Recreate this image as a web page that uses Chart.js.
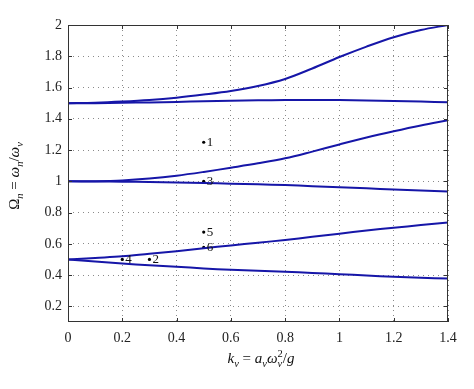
<!DOCTYPE html>
<html><head><meta charset="utf-8">
<script src="https://cdn.jsdelivr.net/npm/chart.js@4"></script>
<style>html,body{margin:0;padding:0;background:#fff}#c{display:block}</style>
</head><body>
<canvas id="c" width="474" height="389"></canvas>
<script>
const kv = [0,0.1,0.2,0.3,0.4,0.5,0.6,0.7,0.8,0.9,1.0,1.1,1.2,1.3,1.4];
const curveA = [1.5,1.503,1.51,1.52,1.535,1.555,1.578,1.61,1.655,1.722,1.795,1.862,1.922,1.968,2.0];
const curveB = [1.5,1.5,1.502,1.505,1.508,1.512,1.516,1.518,1.52,1.52,1.52,1.517,1.514,1.51,1.506];
const curveC = [1.0,1.001,1.006,1.018,1.036,1.06,1.087,1.115,1.147,1.19,1.236,1.28,1.32,1.357,1.39];
const curveD = [1.0,0.999,0.998,0.995,0.992,0.989,0.985,0.981,0.976,0.969,0.962,0.955,0.948,0.941,0.935];
const curveE = [0.5,0.51,0.52,0.537,0.553,0.572,0.59,0.607,0.625,0.645,0.665,0.685,0.703,0.72,0.737];
const curveF = [0.5,0.487,0.474,0.463,0.453,0.443,0.434,0.428,0.421,0.414,0.406,0.397,0.389,0.383,0.378];
const markK = [0.5,0.3,0.5,0.2,0.5,0.5];
const markO = [1.25,0.5,1.0,0.5,0.675,0.577];
const markLabels = ['1','2','3','4','5','6'];
const xTicks = [0,0.2,0.4,0.6,0.8,1.0,1.2,1.4];
const yTicks = [0.2,0.4,0.6,0.8,1.0,1.2,1.4,1.6,1.8,2.0];

const LINE = 'rgb(22,22,168)';
const SERIF = '"Liberation Serif","DejaVu Serif",serif';
const curves = [curveA,curveB,curveC,curveD,curveE,curveF];
const datasets = curves.map(c => ({
  type:'line', data: kv.map((k,i)=>({x:k,y:c[i]})),
  borderColor: LINE, borderWidth: 2, pointRadius: 0, fill:false,
  tension:0.35
}));
datasets.push({type:'scatter', data: markK.map((k,i)=>({x:k,y:markO[i]})),
  pointRadius:1.6, pointBackgroundColor:'#000', pointBorderWidth:0});

function fmt(v){ return (Math.round(v*10)/10).toString(); }

function drawRuns(ctx, runs, size){
  const parts = runs.map(r => {
    const s = r[2]==='n' ? size : size*0.7;
    ctx.font = (r[1]?'italic ':'') + s + 'px ' + SERIF;
    return {t:r[0], font:ctx.font, w:ctx.measureText(r[0]).width, pos:r[2], s};
  });
  let total=0; const xs=[];
  for(let i=0;i<parts.length;i++){
    const p=parts[i];
    if(p.pos==='sub' && i>0 && parts[i-1].pos==='sup'){ xs.push(xs[i-1]); total = Math.max(total, xs[i-1]+p.w); continue; }
    xs.push(total); total += p.w;
  }
  return {parts, xs, total};
}
function renderRuns(ctx, runs, size, cx, cy){
  const m = drawRuns(ctx, runs, size);
  const x0 = cx - m.total/2;
  ctx.textBaseline='alphabetic'; ctx.textAlign='left';
  m.parts.forEach((p,i)=>{
    ctx.font=p.font;
    let dy = 0;
    if(p.pos==='sub') dy = size*0.28;
    if(p.pos==='sup') dy = -size*0.38;
    ctx.fillText(p.t, x0+m.xs[i], cy+dy);
  });
}

const decor = {
  id:'decor',
  afterDatasetsDraw(chart){
    const ctx=chart.ctx, a=chart.chartArea, xs=chart.scales.x, ys=chart.scales.y;
    ctx.save();
    ctx.strokeStyle='#333'; ctx.lineWidth=1;
    ctx.strokeRect(a.left+0.5,a.top+0.5,a.right-a.left-1,a.bottom-a.top-1);
    ctx.beginPath();
    xTicks.forEach(t=>{const x=Math.round(xs.getPixelForValue(t))+0.5;
      ctx.moveTo(x,a.bottom);ctx.lineTo(x,a.bottom-4);ctx.moveTo(x,a.top);ctx.lineTo(x,a.top+4);});
    yTicks.forEach(t=>{const y=Math.round(ys.getPixelForValue(t))+0.5;
      ctx.moveTo(a.left,y);ctx.lineTo(a.left+4,y);ctx.moveTo(a.right,y);ctx.lineTo(a.right-4,y);});
    ctx.stroke();
    ctx.fillStyle='#111'; ctx.font='13px '+SERIF; ctx.textBaseline='middle'; ctx.textAlign='left';
    markK.forEach((k,i)=>{ ctx.fillText(markLabels[i], xs.getPixelForValue(k)+3, ys.getPixelForValue(markO[i])); });
    ctx.fillStyle='#111';
    renderRuns(ctx, [['k',1,'n'],['v',1,'sub'],[' = ',0,'n'],['a',1,'n'],['v',1,'sub'],['ω',1,'n'],['2',0,'sup'],['v',1,'sub'],['/',0,'n'],['g',1,'n']], 15, (a.left+a.right)/2+3, 363);
    ctx.translate(19, 176); ctx.rotate(-Math.PI/2);
    renderRuns(ctx, [['Ω',0,'n'],['n',1,'sub'],[' = ',0,'n'],['ω',1,'n'],['n',1,'sub'],['/',0,'n'],['ω',1,'n'],['v',1,'sub']], 15, 0, 0);
    ctx.restore();
  }
};

new Chart(document.getElementById('c'), {
  data:{datasets},
  options:{
    responsive:false, animation:false, events:[],
    layout:{padding:{left:0,right:26,top:25,bottom:0}},
    plugins:{legend:{display:false},tooltip:{enabled:false}},
    scales:{
      x:{type:'linear',min:0,max:1.4,
        afterBuildTicks(s){s.ticks=xTicks.map(v=>({value:v}));},
        afterFit(s){s.height=67;},
        ticks:{callback:v=>fmt(v),font:{family:SERIF,size:14},color:'#222',padding:8,maxRotation:0},
        grid:{color:'#8a8a8a',lineWidth:1,drawTicks:false},
        border:{display:false,dash:[1,4]}},
      y:{type:'linear',min:0.1,max:2,
        afterBuildTicks(s){s.ticks=yTicks.map(v=>({value:v}));},
        afterFit(s){s.width=68;},
        ticks:{callback:v=>fmt(v),font:{family:SERIF,size:14},color:'#222',padding:6},
        grid:{color:'#8a8a8a',lineWidth:1,drawTicks:false},
        border:{display:false,dash:[1,4]}}
    }
  },
  plugins:[decor]
});
</script>
</body></html>
